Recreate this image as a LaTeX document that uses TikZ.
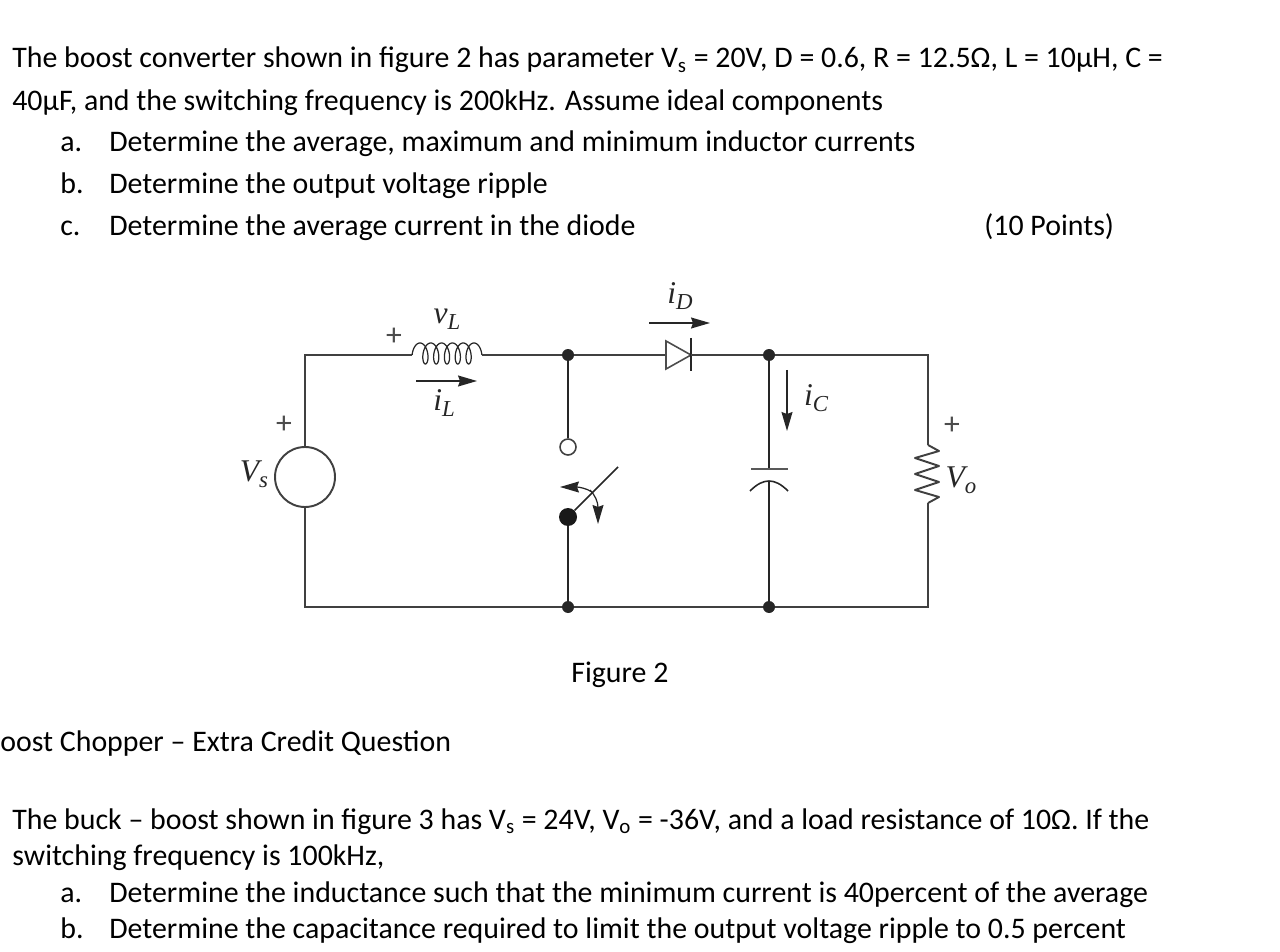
\documentclass[tikz,border=0pt]{standalone}
\usepackage{fontspec}
\setmainfont{Carlito}
\newfontfamily\labfont{Liberation Serif}
\usetikzlibrary{arrows.meta}

\newcommand{\clab}[2]{{\labfont\itshape #1\raisebox{-0.42ex}{\fontsize{13pt}{13pt}\selectfont #2}}}

\tikzset{
  qtext/.style={anchor=base west, inner sep=0pt, font=\fontsize{17pt}{20pt}\selectfont},
  wire/.style={black!75, line width=1.1pt},
  thinwire/.style={black!85, line width=0.9pt},
  dot/.style={circle, fill=black!85, inner sep=0pt, minimum size=0.24cm},
  bigdot/.style={circle, fill=black!90, inner sep=0pt, minimum size=0.36cm},
  opendot/.style={circle, draw=black!75, fill=white, line width=0.9pt, inner sep=0pt, minimum size=0.32cm},
  source/.style={circle, draw=black!75, fill=white, line width=1.1pt, inner sep=0pt, minimum size=1.2cm},
  cur/.style={black!85, line width=0.8pt, -{Stealth[length=0.38cm, width=0.22cm, inset=0.04cm]}},
  sign/.style={inner sep=0pt, black!70, font=\fontsize{18pt}{18pt}\selectfont},
  lab/.style={inner sep=0pt, black!85, font=\fontsize{18pt}{18pt}\selectfont}
}

\begin{document}
\begin{tikzpicture}[x=0.02cm, y=-0.02cm]
\useasboundingbox (0,0) rectangle (1280,952);

% Question text
\node[qtext] (q1) at (12,68) {The boost converter shown in figure 2 has parameter V\textsubscript{s} = 20V, D = 0.6, R = 12.5Ω, L = 10µH, C =};
\node[qtext] (q2) at (12,111) {40µF, and the switching frequency is 200kHz. Assume ideal components};
\foreach \name/\y/\mark/\line in {qa/152/a./{Determine the average, maximum and minimum inductor currents},
    qb/194/b./Determine the output voltage ripple,
    qc/236/c./Determine the average current in the diode} {
    \node[qtext] (\name m) at (60,\y) {\mark};
    \node[qtext] (\name) at (109,\y) {\line};
}
\node[qtext] (points) at (984,236) {(10 Points)};

% Junctions
\node[dot] (top1) at (568,355) {};
\node[dot] (top2) at (769,355) {};
\node[dot] (bot1) at (568,607) {};
\node[dot] (bot2) at (769,607) {};
\coordinate (tl) at (305,355);
\coordinate (bl) at (305,607);
\coordinate (tr) at (928,355);
\coordinate (br) at (928,607);

% Source
\node[source] (vs) at (305,477) {};
\draw[wire] (vs.north) -- (tl) -- (412,355) coordinate (la);
\draw[wire] (vs.south) -- (bl) -- (bot1);
\draw[wire] (bot1) -- (bot2) -- (br) -- (928,503) coordinate (rb);

% Inductor
\coordinate (lb) at (482,355);
\draw[black!85, line width=0.7pt] plot[domain=-98:1898, samples=400] ({447+(\x-900)*0.03+5*sin(\x)},{353.5-10.5*cos(\x)});
\draw[wire] (lb) -- (top1);

% Diode
\coordinate (da) at (666,355);
\coordinate (dk) at (691,355);
\draw[wire] (top1) -- (da);
\draw[thinwire, black!70, fill=white] (666,341) -- (dk) -- (666,369) -- cycle;
\draw[thinwire] (691,338) -- (691,371);
\draw[wire] (dk) -- (top2) -- (tr) -- (928,445) coordinate (rt);

% Switch
\node[opendot] (sw1) at (568,447) {};
\node[bigdot] (sw2) at (568,517) {};
\coordinate (blade) at (618,467);
\draw[thinwire] (top1) -- (sw1);
\draw[thinwire] (sw2) -- (bot1);
\draw[thinwire] (sw2) -- (blade);
\coordinate (swl) at (560,487);
\coordinate (swr) at (598,524);
\draw[cur, line width=0.7pt] (592,492) .. controls (586,488) and (578,487) .. (swl);
\draw[cur, line width=0.7pt] (590,490) .. controls (595,495) and (598,502) .. (swr);

% Capacitor
\coordinate (cp) at (769,469);
\coordinate (cn) at (769,481);
\draw[thinwire] (top2) -- (cp);
\draw[thinwire, black!65] (751,469) -- (788,469);
\draw[thinwire] (750,491) .. controls (757,484) and (763,481) .. (cn) .. controls (775,481) and (781,484) .. (788,491);
\draw[thinwire] (cn) -- (bot2);

% Resistor
\draw[wire, line join=round] (rt) -- (939,451) -- (915,458) -- (939,466) -- (915,474) -- (939,482) -- (915,490) -- (939,497) -- (928,503) -- (rb);

% Current arrows
\coordinate (il1) at (416,381);
\coordinate (il2) at (477,381);
\coordinate (id1) at (649,323);
\coordinate (id2) at (710,323);
\coordinate (ic1) at (787,370);
\coordinate (ic2) at (787,431);
\draw[cur] (il1) -- (il2);
\draw[cur] (id1) -- (id2);
\draw[cur] (ic1) -- (ic2);

% Labels
\node[lab] (vlab) at (447,319) {\clab{v}{L}};
\node[lab] (illab) at (444,403) {\clab{i}{L}};
\node[lab] (idlab) at (680,296) {\clab{i}{D}};
\node[lab] (iclab) at (816,398) {\clab{i}{C}};
\node[lab] (vslab) at (254,474) {\clab{V}{s}};
\node[lab] (volab) at (961,480) {\clab{V}{o}};
\node[sign] (p1) at (394,337) {+};
\node[sign] (p2) at (284,425) {+};
\node[sign] (p3) at (952,426) {+};

% Lower text
\node[qtext] (fig) at (571,682) {Figure 2};
\node[qtext] (head) at (0,751) {oost Chopper – Extra Credit Question};
\node[qtext] (q3) at (12,829) {The buck – boost shown in figure 3 has V\textsubscript{s} = 24V, V\textsubscript{o} = -36V, and a load resistance of 10Ω. If the};
\node[qtext] (q4) at (12,865) {switching frequency is 100kHz,};
\node[qtext] (q5m) at (60,902) {a.};
\node[qtext] (q5) at (109,902) {Determine the inductance such that the minimum current is 40percent of the average};
\node[qtext] (q6m) at (60,938) {b.};
\node[qtext] (q6) at (109,938) {Determine the capacitance required to limit the output voltage ripple to 0.5 percent};
\end{tikzpicture}
\end{document}
